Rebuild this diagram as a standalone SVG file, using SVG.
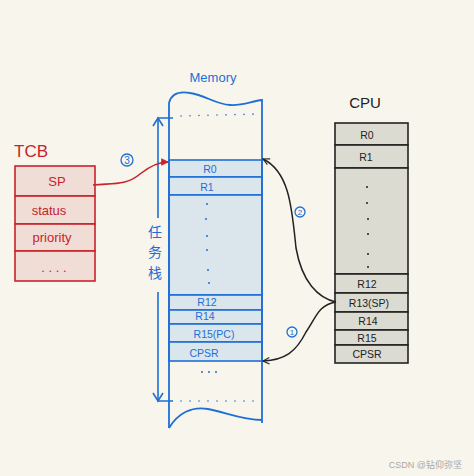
<svg xmlns="http://www.w3.org/2000/svg" width="474" height="476" viewBox="0 0 474 476">
<defs>
<style>
.t{font-family:"Liberation Sans","Noto Sans CJK SC",sans-serif;}
.red{fill:#c8232b}
.blue{fill:#1d6fd6}
.blk{fill:#222}
.tcbrow{fill:#f0ddd6;stroke:#c8232b;stroke-width:1.6}
.memrow{fill:#dbe5ec;stroke:#1d6fd6;stroke-width:1.6}
.cpurow{fill:#dcdbd2;stroke:#222;stroke-width:1.6}
.lbl{font-size:10.5px;text-anchor:middle}
.dot{stroke-width:1.6;stroke-linecap:round;stroke-dasharray:0 9}
</style>
<marker id="ab" viewBox="0 0 10 10" refX="9" refY="5" markerWidth="8" markerHeight="8" orient="auto-start-reverse" markerUnits="userSpaceOnUse">
<path d="M1,1 L9,5 L1,9" fill="none" stroke="#222" stroke-width="1.4"/>
</marker>
<marker id="ar" viewBox="0 0 10 10" refX="9" refY="5" markerWidth="8" markerHeight="8" orient="auto" markerUnits="userSpaceOnUse">
<path d="M1,1 L9,5 L1,9 Z" fill="#c8232b" stroke="#c8232b" stroke-width="1"/>
</marker>
<marker id="abl" viewBox="0 0 10 10" refX="9" refY="5" markerWidth="9" markerHeight="9" orient="auto" markerUnits="userSpaceOnUse">
<path d="M1,1 L9,5 L1,9" fill="none" stroke="#1d6fd6" stroke-width="1.4"/>
</marker>
</defs>
<rect width="474" height="476" fill="#f8f5ec"/>

<g id="tcb">
<text class="t red" x="14" y="157" font-size="17">TCB</text>
<rect class="tcbrow" x="15" y="166" width="80" height="30"/>
<rect class="tcbrow" x="15" y="196" width="80" height="28"/>
<rect class="tcbrow" x="15" y="224" width="80" height="27"/>
<rect class="tcbrow" x="15" y="251" width="80" height="30"/>
<text class="t red" x="57" y="186" font-size="13" text-anchor="middle">SP</text>
<text class="t red" x="49" y="215" font-size="13" text-anchor="middle">status</text>
<text class="t red" x="52" y="242" font-size="13" text-anchor="middle">priority</text>
<text class="t red" x="54" y="272" font-size="13" text-anchor="middle">. . . .</text>
</g>

<g id="memory">
<text class="t blue" x="213" y="82" font-size="13" text-anchor="middle">Memory</text>
<rect class="memrow" x="169" y="160" width="93" height="17"/>
<rect class="memrow" x="169" y="177" width="93" height="18"/>
<rect class="memrow" x="169" y="195" width="93" height="100"/>
<rect class="memrow" x="169" y="295" width="93" height="15"/>
<rect class="memrow" x="169" y="310" width="93" height="14"/>
<rect class="memrow" x="169" y="324" width="93" height="18"/>
<rect class="memrow" x="169" y="342" width="93" height="19"/>
<path d="M169,428 L169,103 C171,95 178,91 190,93 C205,95 215,104 230,105 C242,106 252,101 262,100 L262,423" fill="none" stroke="#1d6fd6" stroke-width="1.8"/>
<path d="M169,428 C178,413 192,406 208,409 C225,412 242,420 262,420" fill="none" stroke="#1d6fd6" stroke-width="1.8"/>
<line class="dot" x1="181" y1="116" x2="258" y2="114" stroke="#1d6fd6"/>
<line class="dot" x1="181" y1="401" x2="258" y2="401" stroke="#1d6fd6"/>
<text class="t blue lbl" x="210" y="173">R0</text>
<text class="t blue lbl" x="207" y="191">R1</text>
<text class="t blue lbl" x="207" y="306">R12</text>
<text class="t blue lbl" x="205" y="320">R14</text>
<text class="t blue lbl" x="214" y="338">R15(PC)</text>
<text class="t blue lbl" x="204" y="357">CPSR</text>
<g fill="#1d6fd6">
<circle cx="207" cy="204" r="1"/><circle cx="206" cy="219" r="1"/><circle cx="207" cy="236" r="1"/><circle cx="207" cy="250" r="1"/><circle cx="208" cy="270" r="1"/><circle cx="209" cy="283" r="1"/>
<circle cx="202" cy="372" r="1"/><circle cx="209" cy="372" r="1"/><circle cx="216" cy="372" r="1"/>
</g>
<path d="M173,118 L158,118 L158,218" fill="none" stroke="#1d6fd6" stroke-width="1.6"/>
<path d="M158,292 L158,401 L173,401" fill="none" stroke="#1d6fd6" stroke-width="1.6"/>
<path d="M153,126 L158,118 L163,126" fill="none" stroke="#1d6fd6" stroke-width="1.6"/>
<path d="M153,393 L158,401 L163,393" fill="none" stroke="#1d6fd6" stroke-width="1.6"/>
<text class="t blue" x="155" y="237" font-size="14" text-anchor="middle">任</text>
<text class="t blue" x="155" y="257" font-size="14" text-anchor="middle">务</text>
<text class="t blue" x="155" y="278" font-size="14" text-anchor="middle">栈</text>
</g>

<g id="cpu">
<text class="t blk" x="365" y="108" font-size="15" text-anchor="middle">CPU</text>
<rect class="cpurow" x="335" y="123" width="73" height="22"/>
<rect class="cpurow" x="335" y="145" width="73" height="23"/>
<rect class="cpurow" x="335" y="168" width="73" height="106"/>
<rect class="cpurow" x="335" y="274" width="73" height="19"/>
<rect class="cpurow" x="335" y="293" width="73" height="19"/>
<rect class="cpurow" x="335" y="312" width="73" height="18"/>
<rect class="cpurow" x="335" y="330" width="73" height="15"/>
<rect class="cpurow" x="335" y="345" width="73" height="18"/>
<text class="t blk lbl" x="367" y="139" font-size="11">R0</text>
<text class="t blk lbl" x="366" y="161" font-size="11">R1</text>
<text class="t blk lbl" x="367" y="288" font-size="11">R12</text>
<text class="t blk lbl" x="369" y="307" font-size="11">R13(SP)</text>
<text class="t blk lbl" x="368" y="325" font-size="11">R14</text>
<text class="t blk lbl" x="367" y="342" font-size="11">R15</text>
<text class="t blk lbl" x="367" y="358" font-size="11">CPSR</text>
<g fill="#222">
<circle cx="367" cy="187" r="1"/><circle cx="367" cy="203" r="1"/><circle cx="368" cy="219" r="1"/><circle cx="368" cy="234" r="1"/><circle cx="368" cy="254" r="1"/><circle cx="368" cy="267" r="1"/>
</g>
</g>

<g id="connectors">
<path d="M93,185 C112,183 126,186 140,174 C150,166 158,162 168,162" fill="none" stroke="#c8232b" stroke-width="1.6" marker-end="url(#ar)"/>
<path d="M336,302 C318,298 302,282 296,248 C292,210 290,172 263,159" fill="none" stroke="#222" stroke-width="1.5" marker-end="url(#ab)"/>
<path d="M336,302 C318,305 316,318 306,332 C296,352 285,360 263,361" fill="none" stroke="#222" stroke-width="1.5" marker-end="url(#ab)"/>
<g fill="none" stroke="#1d6fd6" stroke-width="1.3">
<circle cx="127" cy="160" r="6"/>
<circle cx="300" cy="212" r="5"/>
<circle cx="292" cy="332" r="5"/>
</g>
<text class="t blue" x="127" y="164" font-size="10" text-anchor="middle">3</text>
<text class="t blue" x="300" y="215" font-size="8" text-anchor="middle">2</text>
<text class="t blue" x="292" y="335" font-size="8" text-anchor="middle">1</text>
</g>

<text class="t" x="462" y="468" font-size="9" fill="#a8a8a8" text-anchor="end">CSDN @钻仰弥坚</text>
</svg>
